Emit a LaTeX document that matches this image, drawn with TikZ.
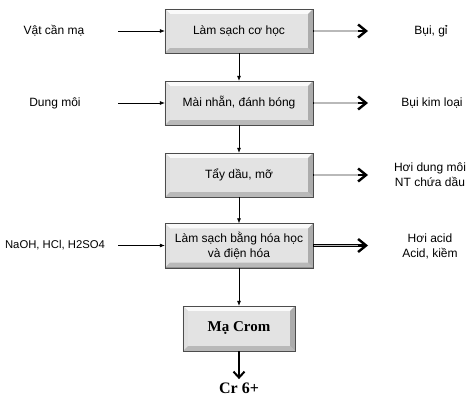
\documentclass[tikz,border=0pt]{standalone}
\usepackage{fontspec}
\setmainfont{Liberation Sans}
\newfontfamily\crfont{Liberation Serif}
\usetikzlibrary{arrows.meta,calc}

\tikzset{
  stage/.style={draw=gray!60!black, fill=gray!22, minimum width=148pt, minimum height=44pt,
    inner sep=0pt, align=center, font=\fontsize{12}{15}\selectfont},
  side/.style={align=center, font=\fontsize{12}{15}\selectfont},
  feed/.style={line width=0.6pt, -{Latex[length=5pt,width=4pt]}},
  outflow/.style={line width=2.8pt, -{Straight Barb[length=8pt,width=13pt,line width=2.4pt]},
    postaction={draw=gray!55, line width=1.3pt, -, shorten >=10pt, shorten <=0.6pt}},
  sink/.style={line width=2pt, -{Straight Barb[length=6pt,width=11pt]}}
}

\begin{document}
\begin{tikzpicture}[x=1pt, y=1pt]
\useasboundingbox (0,0) rectangle (475,400);
% process chain
\node[stage] (clean) at (239,369) {Làm sạch cơ học};
\node[stage] (polish) at (239,297) {Mài nhẵn, đánh bóng};
\node[stage] (degrease) at (239,225) {Tẩy dầu, mỡ};
\node[stage] (etch) at (239,154.5) {Làm sạch bằng hóa học\\và điện hóa};
\node[stage, minimum width=112pt, minimum height=45pt, font=\crfont\bfseries\fontsize{15}{17}\selectfont] (chrome) at (239,71.5) {Mạ Crom};
\node[font=\crfont\bfseries\fontsize{16}{18}\selectfont] (cr) at (239,12) {Cr 6+};
% bevelled frames
\foreach \b in {clean,polish,degrease,etch,chrome} {
  \fill[gray!4] (\b.north west) -- (\b.north east) -- ($(\b.north east)+(-5pt,-5pt)$) -- ($(\b.north west)+(5pt,-5pt)$) -- cycle;
  \fill[gray!25] (\b.north west) -- ($(\b.north west)+(5pt,-5pt)$) -- ($(\b.south west)+(5pt,5pt)$) -- (\b.south west) -- cycle;
  \fill[gray!55] (\b.south west) -- ($(\b.south west)+(5pt,5pt)$) -- ($(\b.south east)+(-5pt,5pt)$) -- (\b.south east) -- cycle;
  \fill[gray!65] (\b.north east) -- (\b.south east) -- ($(\b.south east)+(-5pt,5pt)$) -- ($(\b.north east)+(-5pt,-5pt)$) -- cycle;
  \draw[gray!60!black] (\b.north west) rectangle (\b.south east);
}
% inputs
\node[side] (inA) at (54,369) {Vật cần mạ};
\node[side] (inB) at (55,297) {Dung môi};
\node[side, font=\fontsize{11.3}{15}\selectfont] (inC) at (55,154.5) {NaOH, HCl, H2SO4};
\coordinate (feedA) at (118,369);
\coordinate (feedB) at (118,297);
\coordinate (feedC) at (118,154.5);
% outputs
\node[side] (outA) at (431,369) {Bụi, gỉ};
\node[side] (outB) at (432,297) {Bụi kim loại};
\node[side] (outC) at (430,225) {Hơi dung môi\\NT chứa dầu};
\node[side] (outD) at (430,154) {Hơi acid\\Acid, kiềm};
\coordinate (ventA) at (368,369);
\coordinate (ventB) at (368,297);
\coordinate (ventC) at (368,225);
\coordinate (ventD) at (368,154.5);

\draw[feed] (clean) -- (polish);
\draw[feed] (polish) -- (degrease);
\draw[feed] (degrease) -- (etch);
\draw[feed] (etch) -- (chrome);
\draw[sink] (chrome) -- (cr);
\draw[feed] (feedA) -- (clean);
\draw[feed] (feedB) -- (polish);
\draw[feed] (feedC) -- (etch);
\draw[outflow] (clean) -- (ventA);
\draw[outflow] (polish) -- (ventB);
\draw[outflow] (degrease) -- (ventC);
\draw[outflow] (etch) -- (ventD);
\end{tikzpicture}
\end{document}
